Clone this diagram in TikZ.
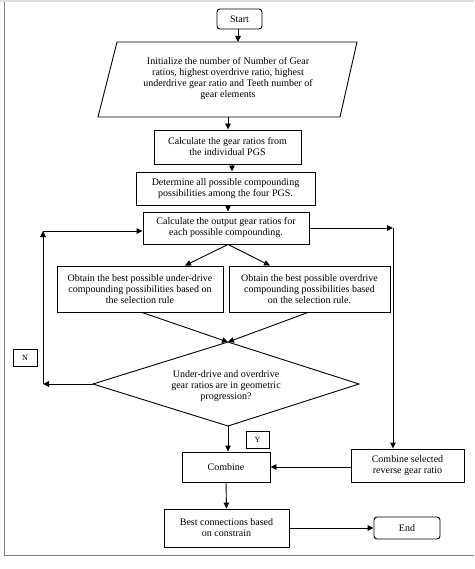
\documentclass[tikz,border=0pt]{standalone}
\usepackage{fontspec}
\setmainfont{Liberation Serif}
\usetikzlibrary{arrows.meta}
\usetikzlibrary{calc}

\tikzset{
	box/.style={draw, line width=0.9pt, align=center, inner sep=0pt, font=\fontsize{10}{11}\selectfont},
	tagbox/.style={draw, line width=0.5pt, align=center, inner sep=0pt, font=\fontsize{8}{9}\selectfont},
	flow/.style={line width=0.9pt, -{Triangle[width=5.5pt,length=6pt]}},
	plain/.style={line width=0.9pt}
}

\begin{document}
\begin{tikzpicture}[x=1pt,y=1pt,yscale=-1,xscale=1]
	\useasboundingbox (0,0) rectangle (474,569);

	%Frame
	\fill [gray!25] (0,0) rectangle (474,2.5);
	\draw [gray, line width=1pt] (4.5,2.5) -- (4.5,555.5) -- (474,555.5);

	%Start / End
	\node (start) [box, rounded corners=3pt, minimum width=45pt, minimum height=20pt] at (239.5,19) {Start};
	\node (end) [box, rounded corners=3pt, minimum width=66pt, minimum height=22pt] at (407,528) {End};

	%Shape: Parallelogram
	\draw [plain] (117,42) -- (357,42) -- (340,117) -- (98,117) -- cycle;
	\node (init) [align=center, font=\fontsize{10}{11}\selectfont] at (228,78.5) {Initialize the number of Number of Gear\\ ratios, highest overdrive ratio, highest\\ underdrive gear ratio and Teeth number of\\ gear elements};
	\coordinate (initT) at (238,42);
	\coordinate (initB) at (228,117);

	%Process boxes
	\node (calc) [box, minimum width=147pt, minimum height=34pt] at (227.5,147) {Calculate the gear ratios from\\ the individual PGS};
	\node (det) [box, minimum width=179pt, minimum height=33pt] at (225.5,188.5) {Determine all possible compounding\\ possibilities among the four PGS.};
	\node (out) [box, minimum width=166pt, minimum height=32pt] at (226,228) {Calculate the output gear ratios for\\ each possible compounding.};
	\node (under) [box, minimum width=166pt, minimum height=46pt] at (140,289) {Obtain the best possible under-drive\\ compounding possibilities based on\\ the selection rule};
	\node (over) [box, minimum width=161pt, minimum height=46pt] at (309.5,289) {Obtain the best possible overdrive\\ compounding possibilities based\\ on the selection rule.};

	%Shape: Diamond
	\coordinate (dT) at (228,342);
	\coordinate (dL) at (93,384);
	\coordinate (dR) at (359,384);
	\coordinate (dB) at (228,426);
	\draw [plain] (dT) -- (dR) -- (dB) -- (dL) -- cycle;
	\node (test) [align=center, font=\fontsize{10}{11}\selectfont] at (226,386) {Under-drive and overdrive\\ gear ratios are in geometric\\ progression?};

	\node (no) [tagbox, minimum width=24pt, minimum height=17pt] at (25,357.5) {N};
	\node (yes) [tagbox, minimum width=23pt, minimum height=17pt] at (257.5,439.5) {Y};

	\node (comb) [box, minimum width=88pt, minimum height=30pt] at (226,467) {Combine};
	\node (csel) [box, minimum width=113pt, minimum height=33pt] at (407.5,465.5) {Combine selected\\ reverse gear ratio};
	\node (best) [box, minimum width=125pt, minimum height=38pt] at (226.5,528) {Best connections based\\ on constrain};

	%Loop corners
	\coordinate (nl) at (43,384);
	\coordinate (nt) at (43,231);
	\coordinate (rt) at (393,228);

	%Connectors
	\draw [flow] (start.south -| initT) -- (initT);
	\draw [flow] (initB) -- (calc.north -| initB);
	\draw [flow] ([xshift=4.5pt]calc.south) -- ([xshift=4.5pt]calc.south |- det.north);
	\draw [flow] ([xshift=2.5pt]det.south) -- ([xshift=2.5pt]det.south |- out.north);
	\draw [flow] ([xshift=2pt]out.south) -- ($(under.north)+(45,0)$);
	\draw [flow] ([xshift=2pt]out.south) -- ($(over.north)+(-39.5,0)$);
	\draw [flow] ([xshift=2pt]under.south) -- (dT);
	\draw [flow] ([xshift=-1.5pt]over.south) -- (dT);
	\draw [flow] (dL) -- (nl);
	\draw [flow] (nl) -- (nt);
	\draw [flow] (nt) -- (nt -| out.west);
	\draw [flow] (out.east) -- (rt);
	\draw [flow] (rt) -- (rt |- csel.north);
	\draw [flow] (dB) -- (dB |- comb.north);
	\draw [flow] ([yshift=1.5pt]csel.west) -- ([yshift=1.5pt]csel.west -| comb.east);
	\draw [flow] (comb.south) -- (best.north);
	\draw [flow] (best.east) -- (end.west);

\end{tikzpicture}
\end{document}
